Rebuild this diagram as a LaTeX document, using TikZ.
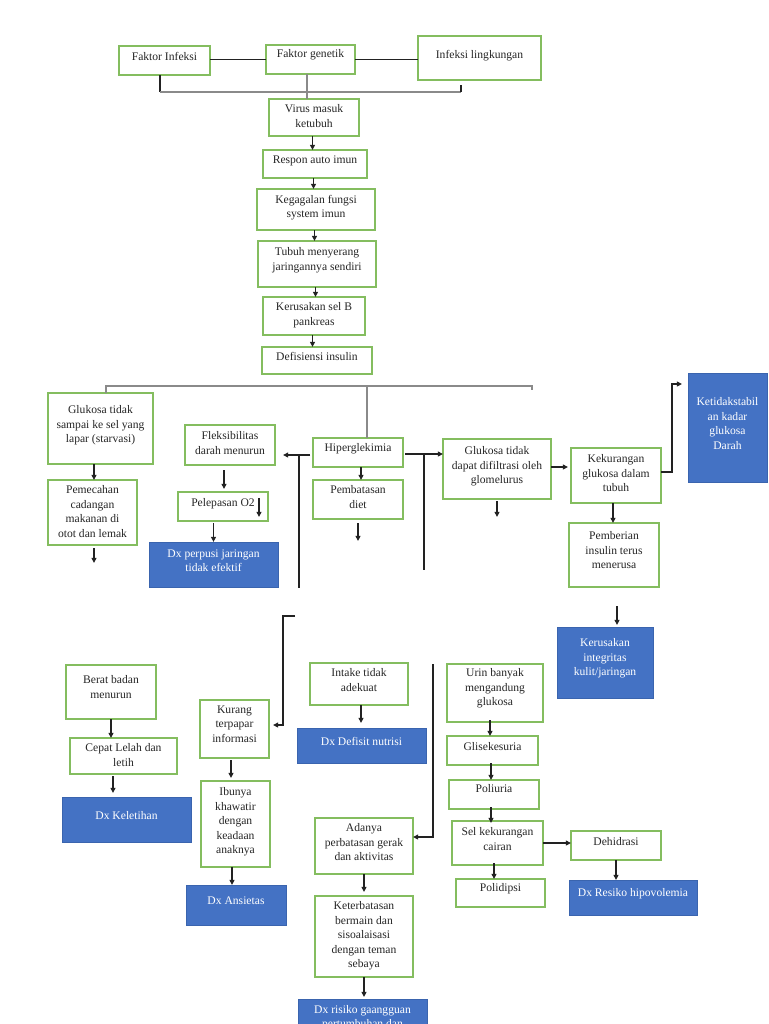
\documentclass[tikz,border=0pt]{standalone}
\usepackage{fontspec}
\setmainfont{Liberation Serif}
\usetikzlibrary{arrows.meta,calc}
\definecolor{bgreen}{HTML}{84BD5F}
\definecolor{bblue}{HTML}{4472C4}
\definecolor{bblueb}{HTML}{3A64AE}
\definecolor{glin}{HTML}{8A8A8A}
\definecolor{dlin}{HTML}{222222}
\newcommand{\fsz}{\fontsize{8.7pt}{10.8pt}\selectfont}
\tikzset{
 gbox/.style={draw=bgreen, line width=0.85pt, inner sep=0pt, outer sep=0pt, fill=white},
 bbox/.style={draw=bblueb, line width=0.6pt, fill=bblue, inner sep=0pt, outer sep=0pt},
 gtxt/.style={inner sep=0pt, align=center, font=\fsz, text=black!85},
 btxt/.style={inner sep=0pt, align=center, font=\fsz, text=white},
 conn/.style={draw=dlin, line width=0.8pt},
 arr/.style={conn, -{Triangle[length=3.8pt,width=3.6pt]}},
 gconn/.style={draw=glin, line width=0.8pt},
}
% green box: [first-line offset]{name}{x1}{y1}{x2}{y2}{text}
\newcommand{\gbx}[7][10]{%
 \node[gbox, anchor=north west, minimum width={(#5-#3)*0.75pt}, minimum height={(#6-#4)*0.75pt}] (#2) at (#3,#4) {};
 \node[gtxt, anchor=north] at ($(#2.north)+(0,#1-4.4)$) {#7};}
% blue box: {name}{x1}{y1}{x2}{y2}{text}
\newcommand{\bbx}[6]{%
 \node[bbox, anchor=north west, minimum width={(#4-#2)*0.75pt}, minimum height={(#5-#3)*0.75pt}] (#1) at (#2,#3) {};
 \node[btxt] at ($(#1.center)+(0,-4)$) {#6};}
\begin{document}
\begin{tikzpicture}[x=0.75pt,y=-0.75pt]
\useasboundingbox (0,0) rectangle (768,1024);
\clip (0,0) rectangle (768,1024);
\fill[white] (0,0) rectangle (768,1024);

% ---- top
\gbx{fi}{119}{46}{210}{75}{Faktor Infeksi}
\gbx[9]{fg}{266}{45}{355}{74}{Faktor genetik}
\gbx[18]{il}{418}{36}{541}{80}{Infeksi lingkungan}
\gbx{vm}{269}{99}{359}{136}{Virus masuk\\ketubuh}
\gbx{ra}{263}{150}{367}{178}{Respon auto imun}
\gbx{kg}{257}{189}{375}{230}{Kegagalan fungsi\\system imun}
\gbx[11]{tm}{258}{241}{376}{287}{Tubuh menyerang\\jaringannya sendiri}
\gbx{ks}{263}{297}{365}{335}{Kerusakan sel B\\pankreas}
\gbx[9]{di}{262}{347}{372}{374}{Defisiensi insulin}

% ---- middle
\gbx[17]{gs}{48}{393}{153}{464}{Glukosa tidak\\sampai ke sel yang\\lapar (starvasi)}
\gbx{pc}{48}{480}{137}{545}{Pemecahan\\cadangan\\makanan di\\otot dan lemak}
\gbx[11]{fl}{185}{425}{275}{465}{Fleksibilitas\\darah menurun}
\gbx[11]{pe}{178}{492}{268}{521}{Pelepasan O2}
\bbx{dp}{149}{542}{278}{587}{Dx perpusi jaringan\\tidak efektif}
\gbx{hg}{313}{438}{403}{467}{Hiperglekimia}
\gbx{pb}{313}{480}{403}{519}{Pembatasan\\diet}
\gbx[12]{gt}{443}{439}{551}{499}{Glukosa tidak\\dapat difiltrasi oleh\\glomelurus}
\gbx[11]{kk}{571}{448}{661}{503}{Kekurangan\\glukosa dalam\\tubuh}
\bbx{kd}{688}{373}{767}{482}{Ketidakstabil\\an kadar\\glukosa\\Darah}
\gbx[13]{pin}{569}{523}{659}{587}{Pemberian\\insulin terus\\menerusa}
\bbx{ki}{557}{627}{653}{698}{Kerusakan\\integritas\\kulit/jaringan}

% ---- lower
\gbx[15]{bb}{66}{665}{156}{719}{Berat badan\\menurun}
\gbx{cl}{70}{738}{177}{774}{Cepat Lelah dan\\letih}
\bbx{dk}{62}{797}{191}{842}{Dx Keletihan}
\gbx{kt}{200}{700}{269}{758}{Kurang\\terpapar\\informasi}
\gbx[11]{ib}{201}{781}{270}{867}{Ibunya\\khawatir\\dengan\\keadaan\\anaknya}
\bbx{da}{186}{885}{286}{925}{Dx Ansietas}
\gbx{it}{310}{663}{408}{705}{Intake tidak\\adekuat}
\bbx{dn}{297}{728}{426}{763}{Dx Defisit nutrisi}
\gbx{ad}{315}{818}{413}{874}{Adanya\\perbatasan gerak\\dan aktivitas}
\gbx{kb}{315}{896}{413}{977}{Keterbatasan\\bermain dan\\sisoalaisasi\\dengan teman\\sebaya}
\node[bbox, anchor=north west, minimum width={129*0.75pt}, minimum height={50*0.75pt}] (dr) at (298,999) {};
\node[btxt, anchor=north] at ($(dr.north)+(0,6)$) {Dx risiko gaangguan\\pertumbuhan dan};
\gbx[9]{ub}{447}{664}{543}{722}{Urin banyak\\mengandung\\glukosa}
\gbx[11]{gl}{447}{736}{538}{765}{Glisekesuria}
\gbx[9]{po}{449}{780}{539}{809}{Poliuria}
\gbx[11]{sk}{452}{821}{543}{865}{Sel kekurangan\\cairan}
\gbx[9]{pd}{456}{879}{545}{907}{Polidipsi}
\gbx[11]{dh}{571}{831}{661}{860}{Dehidrasi}
\bbx{dv}{569}{880}{697}{915}{Dx Resiko hipovolemia}

% ---- connectors top
\draw[conn] (fi.east |- fg.west) -- (fg.west);
\draw[conn] (fg.east) -- (fg.east -| il.west);
\coordinate (brL) at (160,92);
\coordinate (brR) at (461,85);
\draw[conn] (fi.south -| brL) -- (brL);
\draw[gconn] (brL) -- (brR |- brL);
\draw[conn] (brR |- brL) -- (brR);
\draw[gconn] ($(fg.south)+(-3.5,0)$) -- ($(fg.south |- vm.north)+(-3.5,0)$);
\foreach \a/\b in {vm/ra,ra/kg,kg/tm,tm/ks,ks/di}
  \draw[arr] ($(\a.south)+(-1.5,0)$) -- ($(\a.south |- \b.north)+(-1.5,0)$);

% ---- branch line
\coordinate (hL) at (106,386);
\coordinate (hR) at (532,386);
\coordinate (hRt) at (532,390);
\draw[gconn] (hL |- gs.north) -- (hL) -- (hR) -- (hRt);
\draw[gconn] ($(hg.north |- hL)+(9,0)$) -- ($(hg.north)+(9,0)$);

% ---- left column
\draw[arr] ($(pc.north |- gs.south)+(1.5,0)$) -- ($(pc.north)+(1.5,0)$);
\coordinate (pcE) at (94,563);
\draw[arr] ($(pcE |- pc.south)+(0,3)$) -- (pcE);

% ---- hiperglekimia
\draw[arr] ($(hg.south)+(3,0)$) -- ($(hg.south |- pb.north)+(3,0)$);
\coordinate (pbE) at (358,541);
\draw[arr] ($(pbE |- pb.south)+(0,4)$) -- (pbE);
\coordinate (flT) at (283,455);
\draw[arr] ($(hg.west)+(-3,2.5)$) -- (flT);
\coordinate (vLb) at (299,588);
\draw[conn] (vLb |- flT) -- (vLb);
\coordinate (cL) at (295,616);
\coordinate (cLc) at (283,616);
\draw[arr] (cL) -- (cLc) |- ($(kt.east)+(4,-4)$);
\draw[arr] ($(hg.east)+(2,1.5)$) -- ($(hg.east -| gt.west)+(0,1.5)$);
\coordinate (vRb) at (424,570);
\draw[conn] ($(vRb |- hg.east)+(0,1.5)$) -- (vRb);

% ---- fleksibilitas
\draw[arr] ($(pe.north |- fl.south)+(1,5)$) -- ($(pe.north)+(1,-3)$);
\coordinate (peA) at (259,498);
\coordinate (peB) at (259,517);
\draw[arr] (peA) -- (peB);
\draw[arr] ($(dp.north |- pe.south)+(0,2)$) -- (dp.north);

% ---- glukosa tidak dapat / kekurangan
\coordinate (gtE) at (497,517);
\draw[arr] ($(gtE |- gt.south)+(0,2)$) -- (gtE);
\draw[arr] ($(gt.east)+(0,-2)$) -- ($(gt.east -| kk.west)+(-3,-2)$);
\coordinate (kdT) at (682,384);
\draw[arr] ($(kk.east)+(0,-3.5)$) -- ++(11,0) |- (kdT);
\draw[arr] ($(kk.south)+(-3,0)$) -- ($(kk.south |- pin.north)+(-3,0)$);
\coordinate (kiA) at (617,606);
\draw[arr] (kiA) -- ($(kiA |- ki.north)+(0,-2)$);

% ---- lower connectors
\draw[arr] (bb.south) -- (bb.south |- cl.north);
\draw[arr] ($(cl.south)+(-10.5,2)$) -- ($(cl.south |- dk.north)+(-10.5,-4)$);
\draw[arr] ($(kt.south)+(-3.5,2)$) -- ($(kt.south |- ib.north)+(-3.5,-3)$);
\draw[arr] ($(ib.south)+(-3.5,0)$) -- ($(ib.south |- da.north)+(-3.5,0)$);
\draw[arr] ($(it.south)+(2,0)$) -- ($(it.south |- dn.north)+(2,-5)$);
\coordinate (v3) at (433,664);
\draw[arr] (v3) |- ($(ad.east)+(0,-9)$);
\draw[arr] (ad.south) -- ($(ad.south |- kb.north)+(0,-4)$);
\draw[arr] (kb.south) -- ($(kb.south |- dr.north)+(0,-2)$);
\draw[arr] ($(ub.south)+(-5,-2)$) -- ($(ub.south |- gl.north)+(-5,0)$);
\draw[arr] ($(gl.south)+(-1.5,-2)$) -- ($(gl.south |- po.north)+(-1.5,0)$);
\draw[arr] ($(po.south)+(-3,-2)$) -- ($(po.south |- sk.north)+(-3,2)$);
\draw[arr] (sk.east) -- (sk.east -| dh.west);
\draw[arr] ($(sk.south)+(-3.5,-2)$) -- ($(sk.south |- pd.north)+(-3.5,0)$);
\draw[arr] (dh.south) -- (dh.south |- dv.north);
\end{tikzpicture}
\end{document}
